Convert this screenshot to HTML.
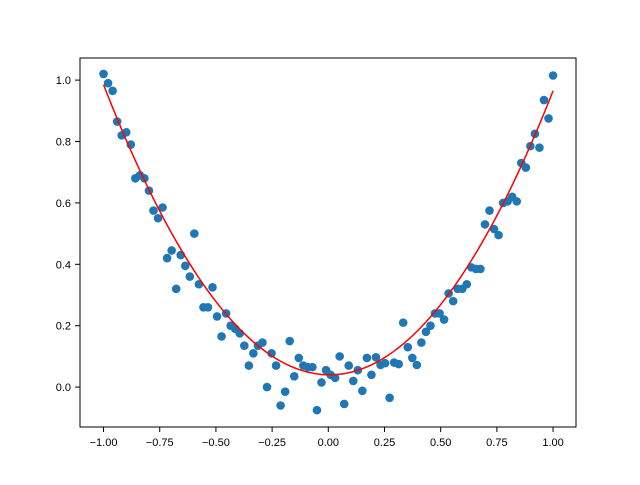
<!DOCTYPE html>
<html><head><meta charset="utf-8"><style>
html,body{margin:0;padding:0;background:#fff}
svg text{font-family:"Liberation Sans","WenQuanYi Zen Hei",sans-serif;font-size:11px;fill:#000}
</style></head><body>
<svg id="chart" width="640" height="480" xmlns="http://www.w3.org/2000/svg">
<rect width="640" height="480" fill="#fff"/>
<g id="pts"></g>
<path id="fit" fill="none" stroke="#ff0000" stroke-width="1.5"/>
<rect x="80" y="58" width="496" height="369" fill="none" stroke="#000" stroke-width="1"/>
<g id="xt"></g>
<g id="yt"></g>
</svg>
<script>
const yValues=[1.02,0.99,0.965,0.865,0.82,0.83,0.79,0.68,0.69,0.68,0.64,0.575,0.55,0.585,0.42,0.445,0.32,0.43,0.395,0.36,0.50,0.335,0.26,0.26,0.325,0.23,0.165,0.24,0.20,0.19,0.175,0.135,0.07,0.11,0.135,0.145,0.0,0.11,0.07,-0.06,-0.015,0.15,0.035,0.095,0.07,0.065,0.065,-0.075,0.015,0.055,0.04,0.03,0.10,-0.055,0.07,0.02,0.055,-0.012,0.095,0.04,0.097,0.072,0.078,-0.035,0.08,0.075,0.21,0.13,0.095,0.072,0.145,0.18,0.20,0.24,0.24,0.22,0.305,0.28,0.32,0.32,0.335,0.39,0.385,0.385,0.53,0.575,0.515,0.495,0.60,0.605,0.62,0.605,0.73,0.715,0.785,0.825,0.78,0.935,0.875,1.015];
const fitCoeffs=[0.04,-0.01,0.935];
const xTicks=[-1,-0.75,-0.5,-0.25,0,0.25,0.5,0.75,1];
const xTickLabels=["−1.00","−0.75","−0.50","−0.25","0.00","0.25","0.50","0.75","1.00"];
const yTicks=[0,0.2,0.4,0.6,0.8,1.0];
const yTickLabels=["0.0","0.2","0.4","0.6","0.8","1.0"];
const X0=-1.1047,X1=1.102,Y0=-0.130,Y1=1.072;
const sx=v=>80+(v-X0)/(X1-X0)*496;
const sy=v=>427-(v-Y0)/(Y1-Y0)*369;
const NS="http://www.w3.org/2000/svg";
const n=yValues.length;
const xs=yValues.map((_,i)=>-1+2*i/(n-1));
const pts=document.getElementById('pts');
xs.forEach((x,i)=>{const c=document.createElementNS(NS,'circle');
c.setAttribute('cx',sx(x));c.setAttribute('cy',sy(yValues[i]));c.setAttribute('r',4.3);c.setAttribute('fill','#1f77b4');


pts.appendChild(c);});
const co=fitCoeffs;
document.getElementById('fit').setAttribute('d',xs.map((x,i)=>(i?'L':'M')+sx(x).toFixed(2)+','+sy(co[0]+co[1]*x+co[2]*x*x).toFixed(2)).join(''));
const xt=document.getElementById('xt');
xTicks.forEach((v,i)=>{const l=document.createElementNS(NS,'line');
l.setAttribute('x1',sx(v));l.setAttribute('x2',sx(v));l.setAttribute('y1',427);l.setAttribute('y2',432);l.setAttribute('stroke','#000');


xt.appendChild(l);
const t=document.createElementNS(NS,'text');t.setAttribute('x',sx(v));t.setAttribute('y',446);t.setAttribute('text-anchor','middle');t.textContent=xTickLabels[i];


xt.appendChild(t);});
const yt=document.getElementById('yt');
yTicks.forEach((v,i)=>{const l=document.createElementNS(NS,'line');
l.setAttribute('x1',75);l.setAttribute('x2',80);l.setAttribute('y1',sy(v));l.setAttribute('y2',sy(v));l.setAttribute('stroke','#000');


yt.appendChild(l);
const t=document.createElementNS(NS,'text');t.setAttribute('x',71);t.setAttribute('y',sy(v)+4);t.setAttribute('text-anchor','end');t.textContent=yTickLabels[i];


yt.appendChild(t);});
</script>
</body></html>
